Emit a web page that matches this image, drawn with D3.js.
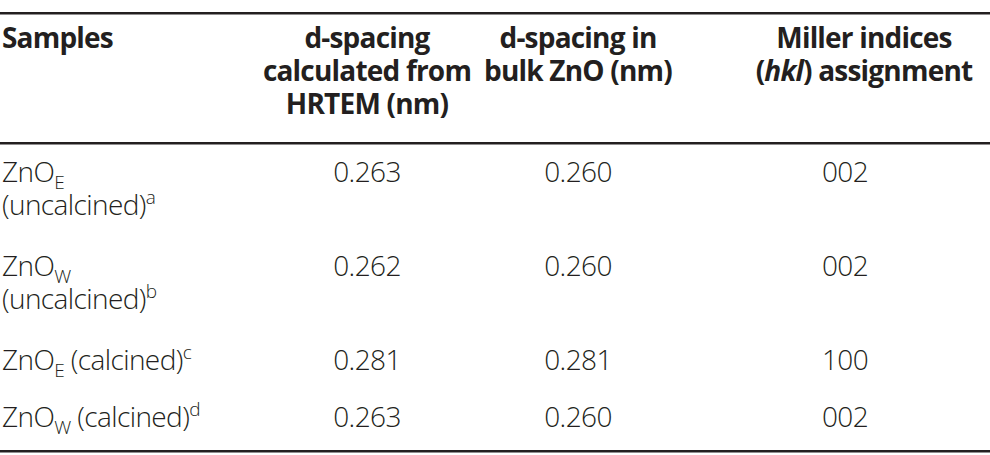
<!DOCTYPE html>
<html><head><meta charset="utf-8">
<script src="https://cdn.jsdelivr.net/npm/d3@7"></script>
<style>body{margin:0;background:#fff}</style>
</head><body>
<script>
// table contents
var headers = [
  ["Samples"],
  ["d-spacing", "calculated from", "HRTEM (nm)"],
  ["d-spacing in", "bulk ZnO (nm)"],
  ["Miller indices", "(<i>hkl</i>) assignment"]
];
var samples = [
  ["ZnO<sub>E</sub>", "(uncalcined)<sup>a</sup>"],
  ["ZnO<sub>W</sub>", "(uncalcined)<sup>b</sup>"],
  ["ZnO<sub>E</sub> (calcined)<sup>c</sup>"],
  ["ZnO<sub>W</sub> (calcined)<sup>d</sup>"]
];
var dHrtem = ["0.263", "0.262", "0.281", "0.263"];
var dBulk = ["0.260", "0.260", "0.281", "0.260"];
var miller = ["002", "002", "100", "002"];

var W = 990, H = 455;
var svg = d3.select("body").append("svg").attr("width", W).attr("height", H)
  .style("font-family", "'Open Sans', sans-serif");

var colX = [2, 367, 578, 845];   // data anchors
var headX = [2, 367, 578, 864];
var rowY = [172, 266, 360, 417]; // first-line center of each row
var lineH = 33;
var ink = "#231f20";

function rule(y, w) {
  svg.append("rect").attr("x", 0).attr("y", y).attr("width", W).attr("height", w).attr("fill", ink);
}
rule(12, 2.5); rule(142, 2.5); rule(450, 2.5);

// render rich text (sub/sup/i) into a text element
function rich(sel, s, small) {
  var parts = s.split(/(<sub>.*?<\/sub>|<sup>.*?<\/sup>|<i>.*?<\/i>)/).filter(function (p) { return p; });
  var back = 0;
  parts.forEach(function (p) {
    var m, t = sel.append("tspan");
    if (back) { t.attr("dy", back); back = 0; }
    if ((m = p.match(/<sub>(.*)<\/sub>/))) {
      t.text(m[1]).attr("dy", 7).style("font-size", small); back = -7;
    } else if ((m = p.match(/<sup>(.*)<\/sup>/))) {
      t.text(m[1]).attr("dy", -11).style("font-size", small); back = 11;
    } else if ((m = p.match(/<i>(.*)<\/i>/))) {
      t.text(m[1]).style("font-style", "italic");
    } else t.text(p);
  });
}

headers.forEach(function (lines, c) {
  lines.forEach(function (l, k) {
    var t = svg.append("text").attr("x", headX[c]).attr("y", 38 + k * lineH).attr("dy", "0.35em")
      .attr("text-anchor", c === 0 ? "start" : "middle")
      .style("font-size", "28px").style("font-weight", 700).style("letter-spacing", "-0.8px")
      .attr("fill", ink);
    rich(t, l, "19px");
  });
});

samples.forEach(function (lines, r) {
  lines.forEach(function (l, k) {
    var t = svg.append("text").attr("x", colX[0]).attr("y", rowY[r] + k * lineH).attr("dy", "0.35em")
      .style("font-size", "28px").style("font-weight", 300).style("letter-spacing", "-0.6px")
      .attr("fill", ink);
    rich(t, l, "19px");
  });
  [dHrtem, dBulk, miller].forEach(function (arr, c) {
    svg.append("text").attr("x", colX[c + 1]).attr("y", rowY[r]).attr("dy", "0.35em")
      .attr("text-anchor", "middle").style("font-size", "28px").style("font-weight", 300)
      .style("letter-spacing", "-0.6px").attr("fill", ink).text(arr[r]);
  });
});
</script>
</body></html>
